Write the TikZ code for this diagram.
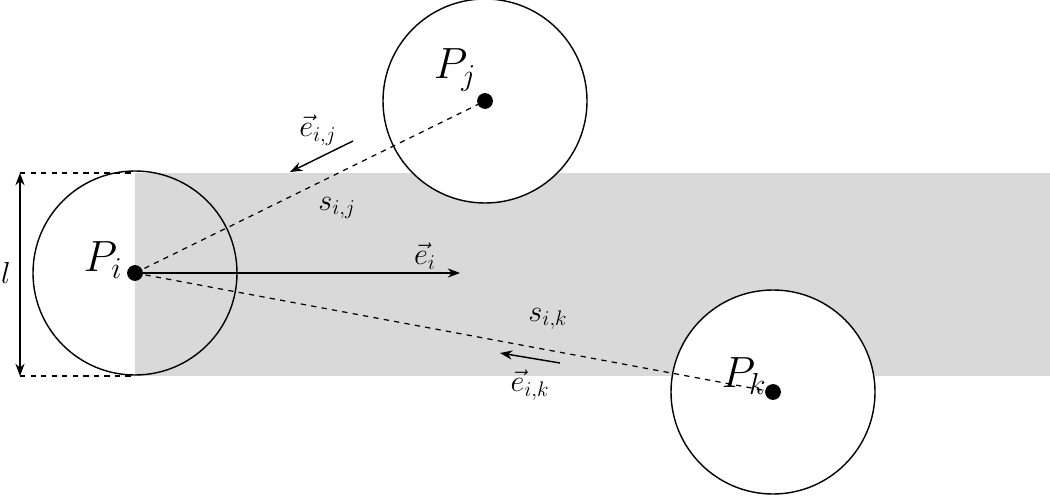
\documentclass[tikz,border=0pt]{standalone}
\usetikzlibrary{arrows.meta}
\begin{document}
\begin{tikzpicture}[x=0.02cm,y=-0.02cm,
  ring/.style={draw,line width=0.8pt},
  dot/.style={circle,fill,inner sep=0pt,minimum size=9pt},
  dash line/.style={dashed,line width=0.7pt},
  vec/.style={-{Stealth[length=7pt]},line width=0.8pt},
  big/.style={font=\fontsize{26}{30}\selectfont},
  small/.style={font=\fontsize{17}{20}\selectfont}]
\useasboundingbox (0,0) rectangle (1050,496);
\fill[gray!30] (135,173) rectangle (1050,376);
\draw[ring] (135,273) circle[radius=102];
\draw[ring,fill=white] (485,101) circle[radius=102];
\draw[ring,fill=white] (773,392) circle[radius=102];
\node[dot] (pi) at (135,273) {};
\node[dot] (pj) at (485,101) {};
\node[dot] (pk) at (773,392) {};
\draw[dash line] (pi.center) -- (pj.center);
\draw[dash line] (pi.center) -- (pk.center);
\coordinate (t1) at (20,173); \coordinate (t2) at (135,173);
\coordinate (b1) at (20,376); \coordinate (b2) at (135,376);
\draw[dash line] (t1) -- (t2);
\draw[dash line] (b1) -- (b2);
\draw[{Stealth[length=7pt]}-{Stealth[length=7pt]},line width=0.8pt] (t1) -- (b1);
\node[small] (l) at (6,273) {$l$};
\coordinate (ei) at (460,273);
\draw[vec] (pi.center) -- (ei);
\node[small] at (425,256) {$\vec{e}_i$};
\coordinate (a1) at (353,141); \coordinate (a2) at (290,172);
\draw[vec] (a1) -- (a2);
\node[small] at (318,130) {$\vec{e}_{i,j}$};
\node[small] at (337,208) {$s_{i,j}$};
\node[small] at (548,319) {$s_{i,k}$};
\coordinate (c1) at (560,363); \coordinate (c2) at (500,353);
\draw[vec] (c1) -- (c2);
\node[small] at (530,385) {$\vec{e}_{i,k}$};
\node[big] at (103,260) {$P_i$};
\node[big] at (455,70) {$P_j$};
\node[big] at (744,376) {$P_k$};
\end{tikzpicture}
\end{document}
